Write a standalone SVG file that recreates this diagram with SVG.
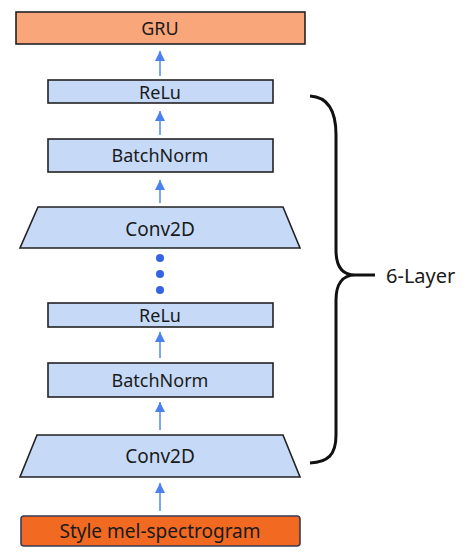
<svg xmlns="http://www.w3.org/2000/svg" width="474" height="558" viewBox="0 0 474 558">
<defs>
<style>
.box{fill:#C6DAF8;stroke:#222;stroke-width:1.6}
.t{font-family:"Noto Sans","Open Sans",sans-serif;font-size:18px;fill:#1a1a1a;text-anchor:middle}
.arr{stroke:#5B8EF0;stroke-width:1.6;fill:none}
.dot{fill:#3463E6}
</style>
<marker id="ah" markerUnits="userSpaceOnUse" markerWidth="10" markerHeight="10" viewBox="0 0 10 10" refX="10" refY="5" orient="auto">
<path d="M0,0 L10,5 L0,10 Z" fill="#4A80F0"/>
</marker>
</defs>
<rect width="474" height="558" fill="#fff"/>
<g id="gru"><rect x="16" y="12" width="289" height="32" fill="#F8A67A" stroke="#222" stroke-width="1.6"/><text class="t" x="160" y="35">GRU</text></g>
<g id="relu1"><rect class="box" x="48" y="80" width="225" height="23"/><text class="t" x="160" y="99">ReLu</text></g>
<g id="bn1"><rect class="box" x="48" y="139" width="225" height="33"/><text class="t" x="160" y="162">BatchNorm</text></g>
<g id="conv1"><polygon class="box" points="38,207 283,207 300,248 20,248"/><text class="t" x="160" y="236" style="font-size:19px">Conv2D</text></g>
<g id="dots"><circle class="dot" cx="160" cy="258" r="4"/><circle class="dot" cx="160" cy="274" r="4"/><circle class="dot" cx="160" cy="290" r="4"/></g>
<g id="relu2"><rect class="box" x="48" y="303" width="225" height="24"/><text class="t" x="160" y="322">ReLu</text></g>
<g id="bn2"><rect class="box" x="48" y="363" width="225" height="34"/><text class="t" x="160" y="387">BatchNorm</text></g>
<g id="conv2"><polygon class="box" points="37,435 283,435 300,477 20,477"/><text class="t" x="160" y="463" style="font-size:19px">Conv2D</text></g>
<g id="input"><rect x="21" y="516" width="279" height="30" rx="3" fill="#F26A22" stroke="#3a3a55" stroke-width="1.6"/><text class="t" x="160" y="538" style="font-size:19px">Style mel-spectrogram</text></g>
<g id="connectors">
<line class="arr" x1="160" y1="76" x2="160" y2="51" marker-end="url(#ah)"/>
<line class="arr" x1="160" y1="135" x2="160" y2="111" marker-end="url(#ah)"/>
<line class="arr" x1="160" y1="203" x2="160" y2="180" marker-end="url(#ah)"/>
<line class="arr" x1="160" y1="358" x2="160" y2="332" marker-end="url(#ah)"/>
<line class="arr" x1="160" y1="430" x2="160" y2="402" marker-end="url(#ah)"/>
<line class="arr" x1="160" y1="511" x2="160" y2="483" marker-end="url(#ah)"/>
</g>
<g id="brace">
<path d="M310,96 C328,97 336,110 336,135 L336,250 C336,266 342,275 355,275 L375,275 M355,275 C342,275 336,285 336,300 L336,435 C336,455 328,462 310,463" fill="none" stroke="#111" stroke-width="3"/>
<text x="386" y="283" style="font-family:'Noto Sans','Open Sans',sans-serif;font-size:20px;fill:#1a1a1a">6-Layer</text>
</g>
</svg>
